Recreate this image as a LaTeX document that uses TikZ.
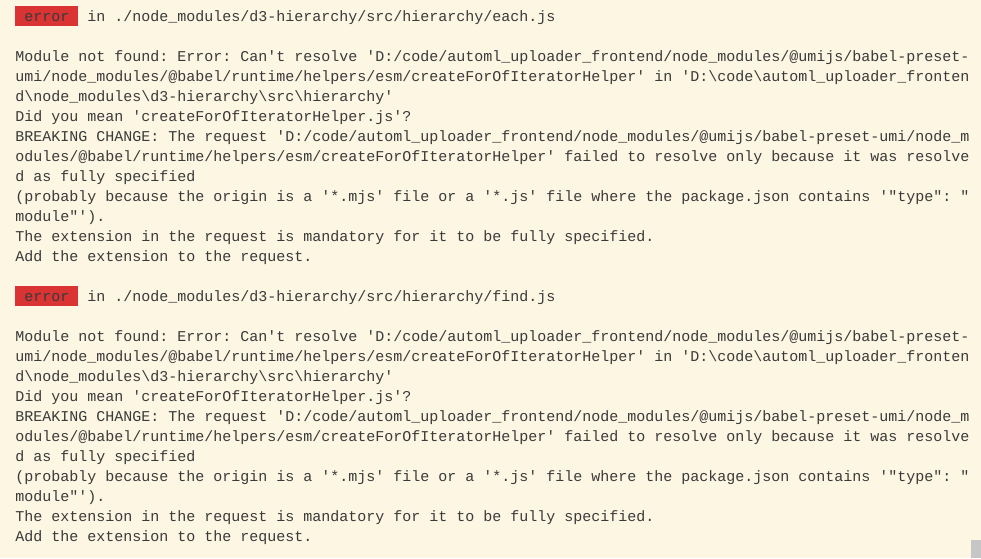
\documentclass[tikz,border=0pt]{standalone}
\usepackage{fontspec}
\newfontfamily\mono{Liberation Mono}
\definecolor{bg}{HTML}{FDF6E3}
\definecolor{txt}{HTML}{3A3A3A}
\definecolor{badge}{HTML}{D93333}
\newcommand{\bs}{\textbackslash{}}
\frenchspacing
\begin{document}
\begin{tikzpicture}[x=0.75pt,y=-0.75pt,
  ln/.style={anchor=base west,inner sep=0pt,font=\mono\frenchspacing\fontsize{11.25pt}{15pt}\selectfont,text=txt}]
\fill[bg] (0,0) rectangle (981,558);
\fill[gray!45] (971,540) rectangle (981,558);
\foreach \blk/\oy/\file in {a/0/each.js,b/280/find.js}{
  \fill[badge] (15,6+\oy) rectangle (78,26+\oy);
  \node[ln] (\blk e) at (24,21+\oy) {error};
  \node[ln] (\blk h) at (87,21+\oy) {in ./node\_modules/d3-hierarchy/src/hierarchy/\file};
  \node[ln] (\blk 2) at (15,61+\oy) {Module not found: Error: Can't resolve 'D:/code/automl\_uploader\_frontend/node\_modules/@umijs/babel-preset-};
  \node[ln] (\blk 3) at (15,81+\oy) {umi/node\_modules/@babel/runtime/helpers/esm/createForOfIteratorHelper' in 'D:\bs code\bs automl\_uploader\_fronten};
  \node[ln] (\blk 4) at (15,101+\oy) {d\bs node\_modules\bs d3-hierarchy\bs src\bs hierarchy'};
  \node[ln] (\blk 5) at (15,121+\oy) {Did you mean 'createForOfIteratorHelper.js'?};
  \node[ln] (\blk 6) at (15,141+\oy) {BREAKING CHANGE: The request 'D:/code/automl\_uploader\_frontend/node\_modules/@umijs/babel-preset-umi/node\_m};
  \node[ln] (\blk 7) at (15,161+\oy) {odules/@babel/runtime/helpers/esm/createForOfIteratorHelper' failed to resolve only because it was resolve};
  \node[ln] (\blk 8) at (15,181+\oy) {d as fully specified};
  \node[ln] (\blk 9) at (15,201+\oy) {(probably because the origin is a '*.mjs' file or a '*.js' file where the package.json contains '"type": "};
  \node[ln] (\blk 10) at (15,221+\oy) {module"').};
  \node[ln] (\blk 11) at (15,241+\oy) {The extension in the request is mandatory for it to be fully specified.};
  \node[ln] (\blk 12) at (15,261+\oy) {Add the extension to the request.};
}
\end{tikzpicture}
\end{document}
